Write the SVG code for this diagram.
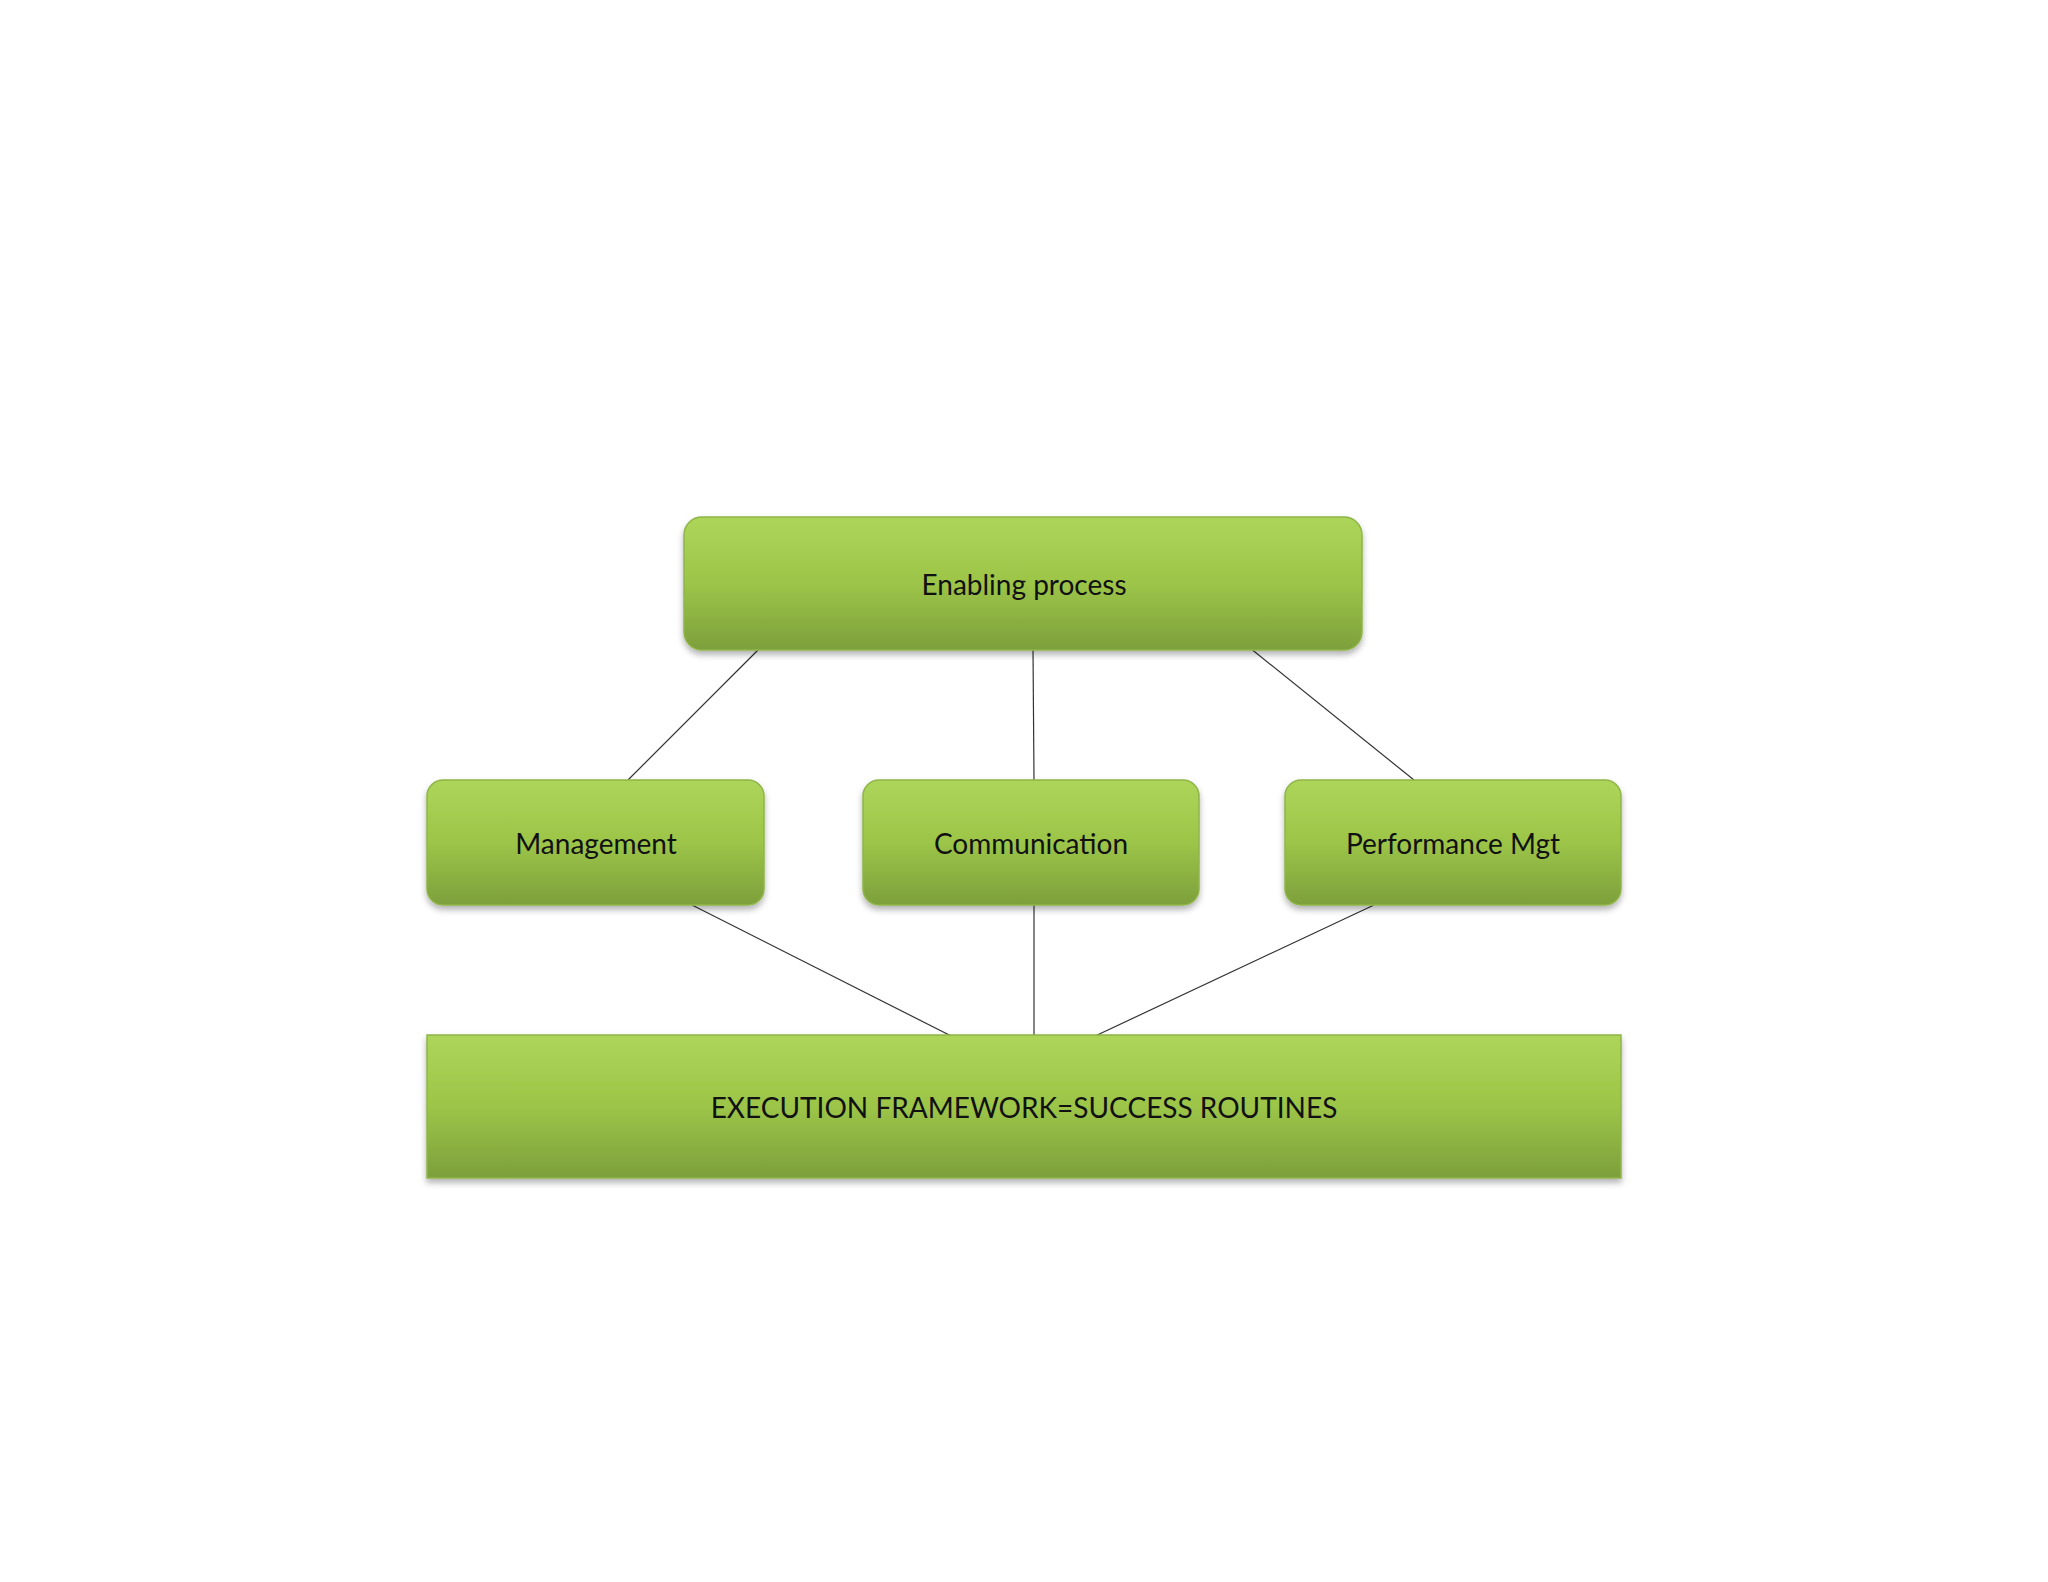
<svg xmlns="http://www.w3.org/2000/svg" width="2048" height="1582" viewBox="0 0 2048 1582">
<style>
.n{stroke:#8fb548;stroke-width:1.5;fill:url(#g)}
.t{font-family:"Lato","Liberation Sans",sans-serif;font-size:28px;fill:#111;text-anchor:middle;dominant-baseline:central}
.c line{stroke:#333;stroke-width:1.2}
</style>
<defs>
<linearGradient id="g" x1="0" y1="0" x2="0" y2="1">
<stop offset="0" stop-color="#add55a"/><stop offset="0.5" stop-color="#9cc548"/><stop offset="1" stop-color="#7d9f3c"/>
</linearGradient>
<filter id="s" x="-5%" y="-10%" width="110%" height="130%"><feDropShadow dx="0" dy="4" stdDeviation="3" flood-color="#000" flood-opacity="0.3"/></filter>
</defs>
<rect width="2048" height="1582" fill="#fff"/>
<g class="c">
<line x1="760" y1="648" x2="628" y2="780"/>
<line x1="1033" y1="649" x2="1034" y2="780"/>
<line x1="1250" y1="648" x2="1414" y2="780"/>
<line x1="692" y1="905" x2="969" y2="1045"/>
<line x1="1034" y1="905" x2="1034" y2="1045"/>
<line x1="1374" y1="905" x2="1076" y2="1045"/>
</g>
<g id="enabling"><rect class="n" filter="url(#s)" x="684" y="517" width="678" height="133" rx="18"/><text class="t" x="1024" y="584">Enabling process</text></g>
<g id="management"><rect class="n" filter="url(#s)" x="427" y="780" width="337" height="125" rx="16"/><text class="t" x="596" y="843">Management</text></g>
<g id="communication"><rect class="n" filter="url(#s)" x="863" y="780" width="336" height="125" rx="16"/><text class="t" x="1031" y="843">Communication</text></g>
<g id="performance"><rect class="n" filter="url(#s)" x="1285" y="780" width="336" height="125" rx="16"/><text class="t" x="1453" y="843">Performance Mgt</text></g>
<g id="execution"><rect class="n" filter="url(#s)" x="427" y="1035" width="1194" height="143"/><text class="t" x="1024" y="1107">EXECUTION FRAMEWORK=SUCCESS ROUTINES</text></g>
</svg>
